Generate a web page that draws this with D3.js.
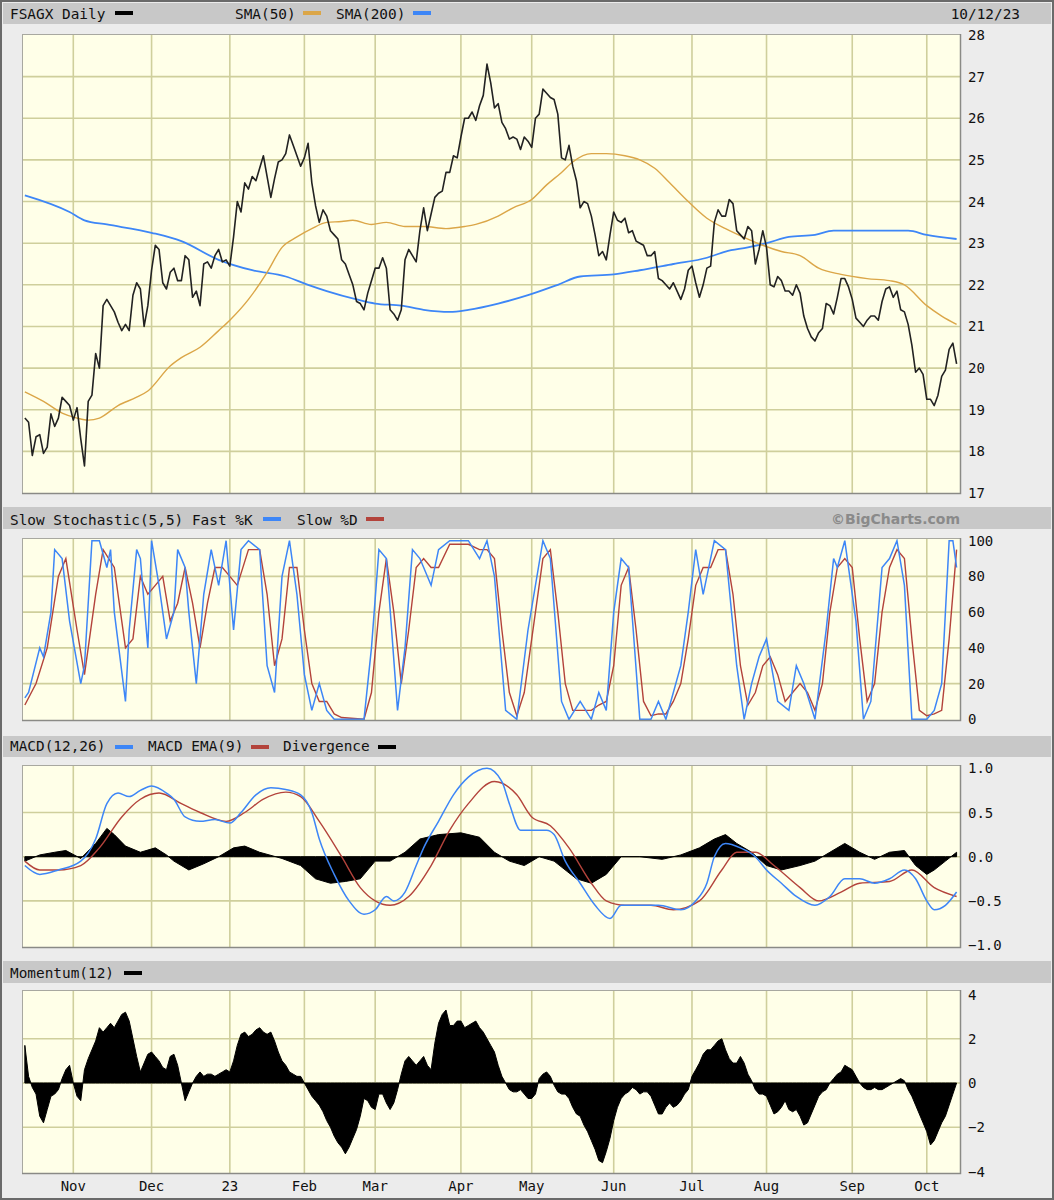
<!DOCTYPE html>
<html><head><meta charset="utf-8">
<script src="https://cdn.jsdelivr.net/npm/d3@7/dist/d3.min.js"></script>
<style>body{margin:0;background:#ececec;} svg{display:block}</style>
</head><body><svg id="c" width="1054" height="1200"></svg>
<script>
// ---------------- DATA ----------------
const title = "FSAGX Daily";
const dateLabel = "10/12/23";
const monthLabels = ["Nov","Dec","23","Feb","Mar","Apr","May","Jun","Jul","Aug","Sep","Oct"];
const monthStartDay = [13,34,55,75,94,117,136,158,179,199,222,242];
const lastDay = 250;

const price = [
18.8,18.7,17.9,18.35,18.4,17.95,18.1,18.9,18.6,18.8,
19.3,19.2,19.1,18.75,19.05,18.3,17.65,19.2,19.35,20.35,
20.0,21.5,21.65,21.5,21.35,21.1,20.9,21.05,20.9,21.75,
22.05,21.9,21.0,21.5,22.35,22.95,22.85,22.05,21.9,22.3,
22.4,22.1,22.1,22.7,22.6,21.7,21.85,21.5,22.5,22.55,
22.4,22.7,22.85,22.55,22.6,22.45,23.15,24.0,23.75,24.45,
24.3,24.6,24.5,24.8,25.1,24.6,24.1,24.55,24.95,25.0,
25.15,25.6,25.35,25.1,24.85,25.05,25.4,24.45,23.9,23.5,
23.8,23.65,23.3,23.2,23.1,22.6,22.5,22.25,22.0,21.6,
21.55,21.4,21.8,22.1,22.4,22.4,22.65,22.4,21.4,21.3,
21.15,21.4,22.6,22.85,22.7,22.55,23.3,23.85,23.3,23.7,
24.1,24.2,24.25,24.7,24.7,25.1,25.05,25.55,26.0,26.0,
26.15,25.95,26.3,26.55,27.3,26.85,26.25,26.35,25.9,25.75,
25.5,25.55,25.5,25.25,25.55,25.45,25.3,26.0,26.1,26.7,
26.6,26.5,26.45,26.1,25.05,25.0,25.35,24.85,24.5,23.85,
24.0,23.95,23.65,23.2,22.7,22.8,22.6,23.2,23.75,23.55,
23.5,23.6,23.25,23.3,23.05,23.0,22.95,22.7,22.7,22.8,
22.15,22.1,22.0,21.9,22.05,21.85,21.65,21.9,22.35,22.45,
22.05,21.7,22.0,22.4,22.45,23.5,23.8,23.65,23.65,24.05,
23.95,23.3,23.2,23.1,23.4,23.3,22.5,22.85,23.3,22.9,
22.0,21.95,22.2,22.1,21.85,21.85,21.75,22.0,21.8,21.25,
20.95,20.75,20.65,20.85,20.95,21.55,21.5,21.3,21.7,22.15,
22.15,21.95,21.65,21.2,21.1,21.0,21.15,21.25,21.25,21.15,
21.6,21.9,21.95,21.7,21.85,21.4,21.35,21.05,20.55,19.9,
20.0,19.85,19.25,19.25,19.1,19.35,19.8,19.95,20.45,20.6,20.1
];

const sma50Day = [0,5,10,14,17,20,25,30,33,39,42,47,52,55,60,65,69,73,77,81,85,88,93,97,102,107,113,118,121,127,131,136,140,144,147,152,156,161,165,169,173,178,183,188,194,198,203,208,213,219,226,232,236,242,246,250];
const sma50 = [19.43,19.2,18.92,18.8,18.75,18.8,19.1,19.3,19.45,20.05,20.25,20.5,20.9,21.15,21.65,22.3,22.9,23.15,23.35,23.5,23.52,23.55,23.45,23.5,23.4,23.4,23.35,23.4,23.45,23.65,23.85,24.05,24.4,24.7,24.95,25.15,25.15,25.1,25.0,24.8,24.45,24.0,23.6,23.35,23.1,22.95,22.8,22.7,22.4,22.25,22.15,22.1,22.0,21.5,21.25,21.05];

const sma200Day = [0,12,16,22,34,42,52,61,70,76,81,89,94,101,107,114,119,127,135,143,149,158,165,174,183,188,194,199,205,212,217,228,237,242,250];
const sma200 = [24.15,23.75,23.55,23.45,23.25,23.05,22.6,22.35,22.2,22.0,21.85,21.65,21.55,21.5,21.4,21.35,21.4,21.55,21.75,22.0,22.2,22.25,22.35,22.5,22.65,22.8,22.9,23.0,23.15,23.2,23.3,23.3,23.3,23.2,23.1];

const stochKDay = [0,1,4,5,7,8,10,12,15,16,18,20,22,23,24,27,28,30,31,33,34,36,38,40,41,43,44,46,48,50,52,54,56,58,60,63,65,67,69,71,73,75,77,79,81,83,91,93,95,97,100,102,104,106,109,111,114,119,122,124,126,129,132,135,139,141,144,146,149,152,154,156,158,160,162,165,168,170,172,176,178,180,182,185,188,191,193,195,197,199,202,205,207,209,212,215,217,218,220,223,225,227,230,232,234,236,238,242,244,246,248,249,250];
const stochK = [12,15,40,35,60,95,90,55,20,30,100,100,85,95,60,10,50,95,90,40,100,75,45,60,95,85,60,20,70,95,75,100,50,95,100,95,30,15,80,100,70,25,5,20,5,0,0,40,95,90,5,40,95,90,75,95,100,100,90,100,80,5,0,50,100,90,10,0,10,0,15,5,60,90,85,0,0,10,0,30,60,95,70,100,95,30,0,20,35,45,10,5,30,20,0,50,90,85,100,55,0,10,85,90,100,75,0,0,5,20,100,100,85];

const stochDDay = [0,3,6,9,11,14,16,19,21,24,27,29,31,33,35,37,39,41,43,45,47,49,51,53,55,57,60,63,65,67,69,71,73,75,77,79,81,83,85,91,93,95,97,99,101,103,105,107,109,111,114,119,122,124,126,128,130,132,134,137,139,141,143,145,147,150,152,154,156,158,160,162,164,166,168,170,172,174,176,178,180,182,184,186,188,190,192,194,196,198,200,202,204,206,208,210,212,214,216,218,220,222,224,226,228,230,232,234,236,238,240,242,244,246,248,250];
const stochD = [8,20,40,80,90,50,25,70,95,85,40,45,80,70,75,80,55,65,85,65,40,65,85,85,80,75,95,95,70,30,45,85,85,50,20,10,10,3,1,0,15,60,90,60,20,50,85,90,85,85,98,98,95,95,90,50,15,2,15,60,90,95,60,20,5,5,5,8,10,30,75,85,50,10,2,3,3,10,20,45,75,85,85,95,95,70,30,8,15,30,35,25,10,15,20,15,5,20,60,85,90,85,45,10,20,60,85,95,90,45,5,2,3,5,45,95];

const macdDay = [0,4,9,15,19,22,25,28,31,34,38,40,43,47,51,55,58,62,66,70,74,77,79,83,87,91,94,97,99,102,105,107,111,115,119,124,128,130,133,136,140,142,145,149,153,157,160,165,170,176,180,183,185,188,192,196,199,203,207,212,216,220,224,228,232,236,239,242,244,247,250];
const macd = [-0.1,-0.2,-0.15,-0.05,0.2,0.6,0.72,0.68,0.75,0.8,0.72,0.65,0.45,0.4,0.42,0.38,0.5,0.7,0.78,0.76,0.7,0.5,0.2,-0.2,-0.5,-0.65,-0.6,-0.45,-0.5,-0.4,-0.1,0.1,0.4,0.7,0.9,1.0,0.85,0.6,0.3,0.3,0.3,0.25,-0.05,-0.3,-0.55,-0.7,-0.55,-0.55,-0.55,-0.6,-0.5,-0.3,0.0,0.15,0.1,0.0,-0.15,-0.3,-0.45,-0.55,-0.45,-0.25,-0.25,-0.3,-0.25,-0.15,-0.25,-0.5,-0.6,-0.55,-0.4];

const signalDay = [0,4,9,15,20,26,31,36,42,47,54,59,64,70,74,79,85,90,94,98,103,109,114,119,126,132,136,141,146,152,156,161,168,174,181,187,191,196,201,208,213,219,224,232,238,244,250];
const signal = [-0.05,-0.15,-0.15,-0.1,0.1,0.45,0.65,0.72,0.6,0.5,0.4,0.5,0.65,0.73,0.68,0.4,0.0,-0.35,-0.5,-0.55,-0.45,-0.1,0.3,0.6,0.85,0.7,0.45,0.35,0.1,-0.3,-0.5,-0.55,-0.55,-0.6,-0.5,-0.15,0.05,0.05,-0.1,-0.35,-0.5,-0.4,-0.3,-0.28,-0.15,-0.35,-0.45];

const divDay = [0,4,8,11,15,19,22,24,27,31,35,38,40,44,48,52,56,59,63,69,74,78,82,86,90,94,98,102,106,111,117,122,126,130,134,138,142,148,152,156,160,165,171,176,181,185,188,191,195,199,203,208,212,216,220,224,228,232,236,239,242,244,247,250];
const divergence = [-0.05,0.02,0.05,0.07,-0.02,0.15,0.32,0.25,0.12,0.05,0.1,0.02,-0.05,-0.15,-0.08,0.0,0.1,0.12,0.05,-0.02,-0.1,-0.25,-0.3,-0.28,-0.25,-0.05,-0.05,0.05,0.2,0.25,0.27,0.22,0.05,-0.05,-0.1,0.0,-0.05,-0.25,-0.3,-0.2,0.0,0.0,-0.03,0.02,0.1,0.2,0.25,0.15,0.05,-0.1,-0.15,-0.1,-0.05,0.05,0.15,0.05,-0.03,0.05,0.07,-0.1,-0.2,-0.15,-0.05,0.05];

const momentum = [
1.7,0.3,-0.2,-0.5,-1.5,-1.8,-1.2,-0.6,-0.5,-0.3,
0.2,0.6,0.8,0.0,-0.6,-0.8,0.6,1.1,1.5,1.9,
2.5,2.3,2.5,2.7,2.5,2.8,3.1,3.2,2.8,2.0,
1.2,0.5,0.9,1.3,1.4,1.2,1.0,0.7,0.6,1.2,
1.3,0.8,0.0,-0.8,-0.4,0.0,0.3,0.5,0.3,0.4,
0.4,0.3,0.4,0.5,0.6,0.5,1.0,1.7,2.2,2.3,
2.1,2.2,2.4,2.5,2.3,2.2,2.3,1.9,1.4,1.0,
0.8,0.5,0.4,0.3,0.3,0.0,-0.3,-0.6,-0.8,-1.0,
-1.3,-1.7,-2.0,-2.4,-2.7,-2.9,-3.2,-2.9,-2.5,-2.1,
-1.5,-0.7,-0.8,-1.1,-1.2,-0.5,-0.5,-0.9,-1.2,-0.9,
-0.3,0.4,1.0,1.2,1.0,0.8,1.0,1.2,0.8,0.6,
1.8,2.7,3.1,3.3,2.6,2.6,2.8,2.8,2.5,2.6,
2.7,2.8,2.5,2.3,2.0,1.7,1.4,0.8,0.3,0.0,
-0.3,-0.4,-0.4,-0.3,-0.5,-0.7,-0.7,-0.5,0.2,0.4,
0.5,0.3,-0.1,-0.4,-0.5,-0.5,-0.7,-1.1,-1.4,-1.5,
-1.9,-2.2,-2.6,-3.0,-3.5,-3.6,-3.1,-2.5,-1.7,-1.1,
-0.7,-0.5,-0.4,-0.2,-0.3,-0.5,-0.4,-0.4,-0.6,-1.0,
-1.4,-1.4,-1.1,-0.9,-1.1,-1.0,-0.8,-0.5,-0.3,0.3,
0.6,0.9,1.3,1.5,1.5,1.7,1.9,2.0,1.5,1.1,
0.9,0.9,1.2,0.9,0.4,0.1,-0.3,-0.5,-0.5,-0.6,
-1.0,-1.4,-1.3,-1.1,-0.8,-1.2,-1.3,-1.2,-1.5,-1.9,
-1.8,-1.4,-1.0,-0.6,-0.4,-0.3,0.0,0.2,0.4,0.5,
0.8,0.7,0.6,0.3,0.0,-0.2,-0.3,-0.3,-0.2,-0.3,
-0.3,-0.2,-0.1,0.0,0.1,0.2,0.1,-0.3,-0.6,-1.0,
-1.4,-1.8,-2.2,-2.8,-2.6,-2.2,-1.8,-1.5,-1.0,-0.5,0.0
];

const priceTicks = [17,18,19,20,21,22,23,24,25,26,27,28];
const stochTicks = [0,20,40,60,80,100];
const macdTicks = [-1,-0.5,0,0.5,1];
const momTicks = [-4,-2,0,2,4];

// ---------------- DRAW ----------------
const W = 1054, H = 1200;
const MONO = "'DejaVu Sans Mono', 'Liberation Mono', monospace";
const C = {bg:"#ececec", bar:"#c8c8c8", plot:"#ffffe8", grid:"#cfcf9c", black:"#222222",
  orange:"#dba648", blue:"#3d86f7", red:"#b3433b"};

const svg = d3.select("#c");
svg.append("rect").attr("width", W).attr("height", H).attr("fill", C.bg);

const plotL = 22, plotR = 961;
const x = d3.scaleLinear().domain([0, lastDay]).range([24.85, 956.6]);

function headerBar(y0, h) {
  svg.append("rect").attr("x", 3).attr("y", y0).attr("width", W - 6).attr("height", h).attr("fill", C.bar);
}
function label(txt, xx, yy, opts = {}) {
  return svg.append("text").attr("x", xx).attr("y", yy).text(txt)
    .attr("font-family", opts.family || MONO).attr("font-size", opts.size || 14.4)
    .attr("fill", opts.fill || "#111").attr("font-weight", opts.weight || "normal")
    .attr("text-anchor", opts.anchor || "start");
}
function swatch(xx, yy, color) {
  svg.append("rect").attr("x", xx).attr("y", yy).attr("width", 18).attr("height", 4).attr("fill", color);
}

function panel(id, top, bottom, y, gridVals, ticks, fmt) {
  const g = svg.append("g");
  g.append("rect").attr("x", plotL).attr("y", top).attr("width", plotR - plotL).attr("height", bottom - top).attr("fill", C.plot);
  g.selectAll(".hg").data(gridVals).join("line")
    .attr("x1", plotL).attr("x2", plotR).attr("y1", d => y(d)).attr("y2", d => y(d))
    .attr("stroke", C.grid).attr("stroke-width", 1.6);
  g.selectAll(".vg").data(monthStartDay).join("line")
    .attr("x1", d => x(d)).attr("x2", d => x(d)).attr("y1", top).attr("y2", bottom)
    .attr("stroke", C.grid).attr("stroke-width", 1.6);
  svg.append("clipPath").attr("id", "clip-" + id).append("rect")
    .attr("x", plotL).attr("y", top).attr("width", plotR - plotL).attr("height", bottom - top);
  const body = svg.append("g").attr("clip-path", `url(#clip-${id})`);
  svg.append("rect").attr("x", plotL + 0.5).attr("y", top + 0.5).attr("width", plotR - plotL - 1).attr("height", bottom - top - 1)
    .attr("fill", "none").attr("stroke", "#a8a8a0").attr("stroke-width", 1);
  svg.append("path").attr("d", `M${plotL},${bottom - 0.5}H${plotR - 0.5}V${top}`)
    .attr("fill", "none").attr("stroke", "#8a8a86").attr("stroke-width", 1.5);
  ticks.forEach(t => {
    label(fmt(t), 968, y(t) + 5, {size: 14});
  });
  return body;
}

// ---- Header bars ----
headerBar(3, 21);
headerBar(507, 22);
headerBar(736, 21);
headerBar(961, 22);

// ---- Price panel ----
const yP = d3.scaleLinear().domain([17, 28]).range([493, 35]);
const pBody = panel("p", 34, 494, yP, d3.range(18, 28), priceTicks, d => String(d));
pBody.append("path").datum(sma200.map((v, k) => [sma200Day[k], v]))
  .attr("d", d3.line().x(d => x(d[0])).y(d => yP(d[1])).curve(d3.curveMonotoneX))
  .attr("fill", "none").attr("stroke", C.blue).attr("stroke-width", 1.8);
pBody.append("path").datum(sma50.map((v, k) => [sma50Day[k], v]))
  .attr("d", d3.line().x(d => x(d[0])).y(d => yP(d[1])).curve(d3.curveMonotoneX))
  .attr("fill", "none").attr("stroke", C.orange).attr("stroke-width", 1.4);
pBody.append("path").datum(price)
  .attr("d", d3.line().x((d, i) => x(i)).y(d => yP(d)))
  .attr("fill", "none").attr("stroke", C.black).attr("stroke-width", 1.6).attr("stroke-linejoin", "round");

label(title, 10, 19);
swatch(115, 11, "#000");
label("SMA(50)", 235, 19);
swatch(303, 11, C.orange);
label("SMA(200)", 336, 19);
swatch(413, 11, C.blue);
label(dateLabel, 1020, 19, {anchor: "end"});

// ---- Stochastic panel ----
const yS = d3.scaleLinear().domain([0, 100]).range([719.3, 540.7]);
const sBody = panel("s", 538, 721, yS, [20, 40, 60, 80], stochTicks, d => String(d));
sBody.append("path").datum(stochD.map((v, k) => [stochDDay[k], v]))
  .attr("d", d3.line().x(d => x(d[0])).y(d => yS(d[1])))
  .attr("fill", "none").attr("stroke", C.red).attr("stroke-width", 1.4);
sBody.append("path").datum(stochK.map((v, k) => [stochKDay[k], v]))
  .attr("d", d3.line().x(d => x(d[0])).y(d => yS(d[1])))
  .attr("fill", "none").attr("stroke", C.blue).attr("stroke-width", 1.5);

label("Slow Stochastic(5,5) Fast %K", 10, 524.5);
swatch(263, 517, C.blue);
label("Slow %D", 297, 524.5);
swatch(366, 517, C.red);
label("\u00A9BigCharts.com", 960, 523.5, {anchor: "end", family: "'DejaVu Sans', Verdana, sans-serif", weight: "bold", size: 14, fill: "#8a8a8a"});

// ---- MACD panel ----
const yM = d3.scaleLinear().domain([-1, 1]).range([945.1, 768.3]);
const mBody = panel("m", 765, 948, yM, [-0.5, 0, 0.5], macdTicks, d => d.toFixed(1).replace("-", "\u2212"));
mBody.append("path").datum(divergence.map((v, k) => [divDay[k], v]))
  .attr("d", d3.area().x(d => x(d[0])).y0(yM(0)).y1(d => yM(d[1])))
  .attr("fill", "#000").attr("stroke", "#000").attr("stroke-width", 1);
mBody.append("path").datum(signal.map((v, k) => [signalDay[k], v]))
  .attr("d", d3.line().x(d => x(d[0])).y(d => yM(d[1])).curve(d3.curveMonotoneX))
  .attr("fill", "none").attr("stroke", C.red).attr("stroke-width", 1.4);
mBody.append("path").datum(macd.map((v, k) => [macdDay[k], v]))
  .attr("d", d3.line().x(d => x(d[0])).y(d => yM(d[1])).curve(d3.curveMonotoneX))
  .attr("fill", "none").attr("stroke", C.blue).attr("stroke-width", 1.5);

label("MACD(12,26)", 10, 751);
swatch(115, 745, C.blue);
label("MACD EMA(9)", 148, 751);
swatch(251, 745, C.red);
label("Divergence", 283, 751);
swatch(378, 745, "#000");

// ---- Momentum panel ----
const yMo = d3.scaleLinear().domain([-4, 4]).range([1171.5, 994.5]);
const moBody = panel("mo", 990, 1174, yMo, [-2, 0, 2], momTicks, d => d < 0 ? "\u2212" + Math.abs(d) : String(d));
moBody.append("path").datum(momentum)
  .attr("d", d3.area().x((d, i) => x(i)).y0(yMo(0)).y1(d => yMo(d)))
  .attr("fill", "#000").attr("stroke", "#000").attr("stroke-width", 1);

label("Momentum(12)", 10, 978);
swatch(124, 971, "#000");

// ---- Month axis ----
monthLabels.forEach((m, k) => {
  label(m, x(monthStartDay[k]), 1191, {anchor: "middle", size: 14});
});

// outer frame
svg.append("rect").attr("x", 1).attr("y", 1).attr("width", W - 2).attr("height", H - 2)
  .attr("fill", "none").attr("stroke", "#6a6a6a").attr("stroke-width", 2);
</script>
</body></html>
